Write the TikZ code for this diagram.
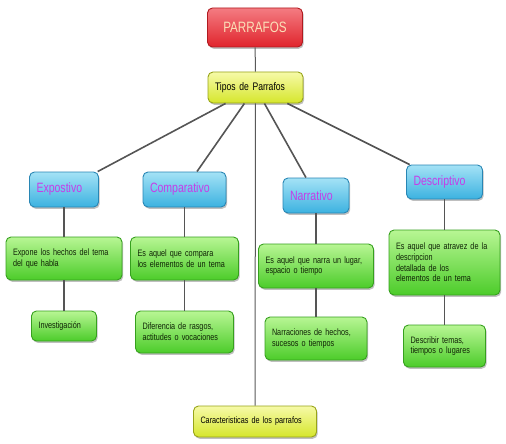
\documentclass[tikz,border=0pt]{standalone}
\usepackage{fontspec}
\setmainfont{Liberation Sans}[FakeStretch=0.78, WordSpace=0.6]
\usetikzlibrary{shadows}
\definecolor{redtop}{HTML}{F47C82}
\definecolor{redbot}{HTML}{E0242C}
\definecolor{redborder}{HTML}{B01A20}
\definecolor{parrtext}{HTML}{FBE0B8}
\definecolor{yeltop}{HTML}{F6FAA8}
\definecolor{yelbot}{HTML}{D6E62C}
\definecolor{yelborder}{HTML}{98A418}
\definecolor{bluetop}{HTML}{A4E2F6}
\definecolor{bluebot}{HTML}{3CB2E0}
\definecolor{blueborder}{HTML}{2886B4}
\definecolor{bluetext}{HTML}{C63CE8}
\definecolor{greentop}{HTML}{B8F694}
\definecolor{greenbot}{HTML}{4CCC2A}
\definecolor{greenborder}{HTML}{36A01E}
\definecolor{greentext}{HTML}{102406}
\definecolor{linkcol}{HTML}{555555}
\tikzset{
  basebox/.style={rounded corners=5pt, line width=0.9pt, inner xsep=7pt, inner ysep=2pt,
    align=left, anchor=center,
    drop shadow={shadow xshift=1.2pt, shadow yshift=-1.8pt, opacity=0.25, fill=black}},
  redbox/.style={basebox, draw=redborder, top color=redtop, bottom color=redbot,
    text=parrtext, align=center, font=\fontsize{15}{17}\selectfont},
  yelbox/.style={basebox, draw=yelborder, top color=yeltop, bottom color=yelbot,
    text=black},
  bluebox/.style={basebox, draw=blueborder, top color=bluetop, bottom color=bluebot,
    text=bluetext, font=\fontsize{13.5}{15}\selectfont},
  greenbox/.style={basebox, draw=greenborder, top color=greentop, bottom color=greenbot,
    text=greentext, font=\fontsize{9.3}{10.7}\selectfont},
  link/.style={draw=linkcol, line width=1.6pt},
  vlink/.style={draw=linkcol, line width=1.1pt},
  clink/.style={draw=gray!70!black, line width=1pt}
}
\begin{document}
\begin{tikzpicture}[x=1pt, y=-1pt]
\useasboundingbox (0,0) rectangle (506,444);
% nodes
\node[redbox, text width=81pt, minimum height=39pt] (parr) at (255,27.5) {PARRAFOS};
\node[yelbox, text width=81pt, minimum height=31pt, font=\fontsize{11}{13}\selectfont] (tipos) at (255.5,87.5) {Tipos de Parrafos};
\node[bluebox, text width=55pt, minimum height=35pt] (expo) at (64,189.5) {Expostivo};
\node[bluebox, text width=69pt, minimum height=35pt] (comp) at (184.5,189.5) {Comparativo};
\node[bluebox, text width=52pt, minimum height=35pt] (narr) at (316,195.5) {Narrativo};
\node[bluebox, text width=62pt, minimum height=34pt] (desc) at (444.5,182) {Descriptivo};
\node[greenbox, text width=102pt, minimum height=43pt] (expoD) at (64,258.5) {Expone los hechos del tema\\del que habla};
\node[greenbox, text width=94pt, minimum height=43pt] (compD) at (184.5,258.5) {Es aquel que compara\\los elementos de un tema};
\node[greenbox, text width=101pt, minimum height=44pt] (narrD) at (316,266) {Es aquel que narra un lugar,\\espacio o tiempo};
\node[greenbox, text width=97pt, minimum height=65pt] (descD) at (444.5,262.5) {Es aquel que atravez de la\\descripcion\\detallada de los\\elementos de un tema};
\node[greenbox, text width=51pt, minimum height=30pt] (expoE) at (64,326) {Investigación};
\node[greenbox, text width=84pt, minimum height=42pt] (compE) at (184.5,332) {Diferencia de rasgos,\\actitudes o vocaciones};
\node[greenbox, text width=88pt, minimum height=43pt] (narrE) at (316,338.5) {Narraciones de hechos,\\sucesos o tiempos};
\node[greenbox, text width=68pt, minimum height=42pt] (descE) at (444.5,346) {Describir temas,\\tiempos o lugares};
\node[yelbox, text width=109pt, minimum height=31pt, font=\fontsize{9.3}{11}\selectfont] (carac) at (255,421.5) {Caracteristicas de los parrafos};
% connectors
\draw[clink] (parr) -- (tipos);
\draw[link] (tipos) -- (expo);
\draw[link] (tipos) -- (comp);
\draw[link] (tipos) -- (narr);
\draw[link] (tipos) -- (desc);
\draw[clink] (tipos) -- (carac);
\draw[vlink] (expo) -- (expoD);
\draw[vlink] (expoD) -- (expoE);
\draw[vlink] (comp) -- (compD);
\draw[vlink] (compD) -- (compE);
\draw[vlink] (narr) -- (narrD);
\draw[vlink] (narrD) -- (narrE);
\draw[vlink] (desc) -- (descD);
\draw[vlink] (descD) -- (descE);
\end{tikzpicture}
\end{document}
